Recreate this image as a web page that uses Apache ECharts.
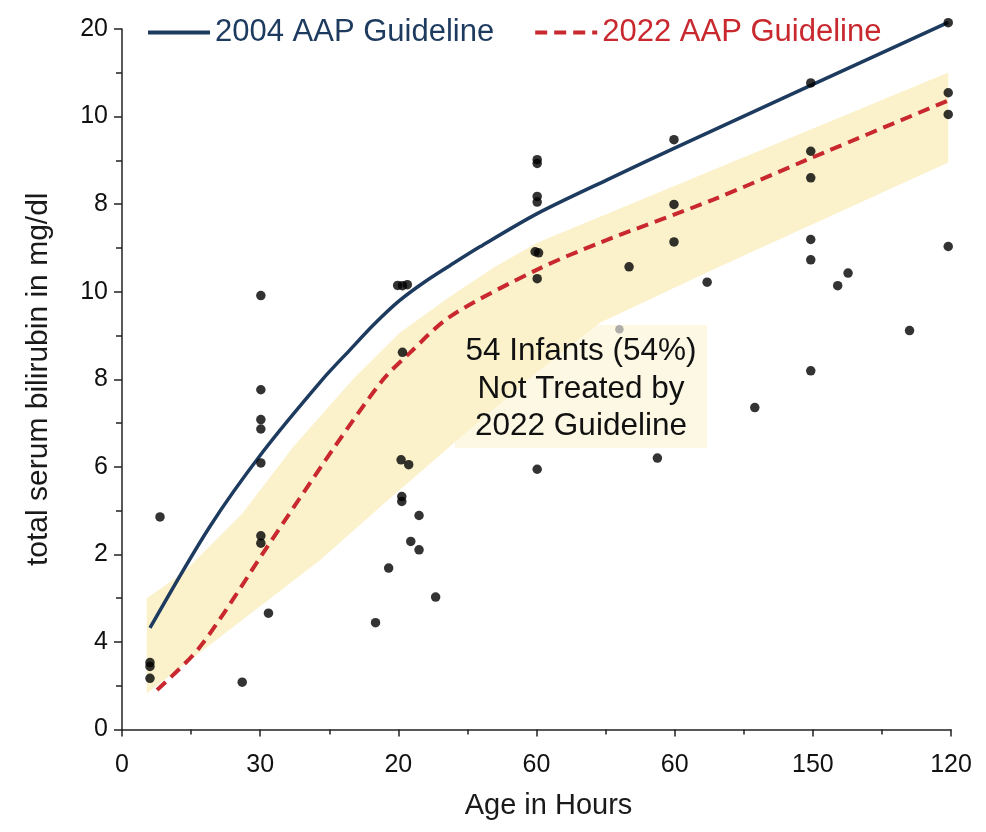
<!DOCTYPE html>
<html><head><meta charset="utf-8">
<script src="https://cdn.jsdelivr.net/npm/echarts@6/dist/echarts.min.js"></script>
<style>html,body{margin:0;padding:0;background:#fff}#c{width:986px;height:832px}</style>
</head><body><div id="c"></div>
<script>
// tick labels exactly as printed on the reference
const xTickLabels = ['0','30','20','60','60','150','120'];
const yTickLabels = ['0','4','2','6','8','10','8','10','20'];

// 2004 AAP guideline (solid navy)
const g2004Hours = [4.05, 12.7, 20.4, 29.0, 33.0, 36.6, 40.2, 43.9, 47.5, 51.8, 60.1, 70.6, 79.9, 99.7, 119.6];
const g2004Vals  = [2.90, 5.79, 7.93, 9.99, 10.84, 11.59, 12.25, 12.79, 13.25, 13.78, 14.73, 15.73, 16.59, 18.39, 20.19];

// 2022 AAP guideline (dashed red)
const g2022Hours = [5.07, 11.3, 21.0, 30.5, 37.8, 41.7, 47.5, 60.1, 69.2, 85.6, 99.2, 119.6];
const g2022Vals  = [1.13, 2.36, 5.21, 7.99, 9.99, 10.76, 11.79, 13.13, 13.90, 15.13, 16.27, 17.96];

// shaded band around 2022 guideline
const bandUpperHours = [3.58, 8.83, 17.5, 24.8, 33.4, 40.2, 47.5, 54.0, 60.1, 119.6];
const bandUpperVals  = [3.75, 4.47, 6.19, 8.07, 9.99, 11.33, 12.36, 13.21, 13.90, 18.76];
const bandLowerHours = [3.58, 28.7, 37.4, 48.2, 60.1, 69.2, 85.6, 119.6];
const bandLowerVals  = [1.03, 4.84, 6.36, 8.21, 10.21, 11.61, 13.13, 16.19];

// infants (black dots)
const infantHours = [4.05,4.05,4.05,5.5,17.4,20.1,20.1,20.1,20.1,20.1,20.1,20.1,21.2,36.7,38.6,39.9,40.6,41.3,40.6,40.4,41.5,40.5,40.5,43.0,41.8,43.0,45.4,60.1,60.1,60.1,60.1,59.8,60.3,60.1,60.1,73.4,77.5,79.9,79.9,79.9,84.7,91.6,99.7,99.7,99.7,99.7,99.7,99.7,103.6,105.1,114.0,119.6,119.6,119.6,119.6];
const infantVals  = [1.91,1.80,1.46,6.07,1.35,12.39,9.70,8.85,8.58,7.61,5.53,5.32,3.32,3.05,4.61,12.68,12.67,12.70,10.77,7.70,7.56,6.65,6.51,6.11,5.37,5.13,3.78,16.27,16.16,15.22,15.06,13.64,13.61,12.87,7.43,13.21,7.75,16.84,14.99,13.92,12.77,9.19,18.46,16.51,15.75,13.99,13.41,10.24,12.67,13.03,11.39,20.18,18.18,17.56,13.79];
// grey dot
const greyHours = [72.0];
const greyVals  = [11.43];

const FONT = "'Liberation Sans', Arial, Helvetica, sans-serif";
const zip = (a, b) => a.map((v, i) => [v, b[i]]);

const chart = echarts.init(document.getElementById('c'), null, {renderer: 'canvas'});
chart.setOption({
  animation: false,
  backgroundColor: '#ffffff',
  textStyle: {fontFamily: FONT},
  grid: {left: 122, right: 35, top: 29, bottom: 102.5, containLabel: false},
  legend: {
    left: 141, top: 12, itemWidth: 62, itemHeight: 14, itemGap: 39,
    itemStyle: {opacity: 0},
    lineStyle: {width: 4},
    textStyle: {fontSize: 31, fontFamily: FONT},
    data: [
      {name: '2004 AAP Guideline', textStyle: {color: '#1d3a5f'}},
      {name: '2022 AAP Guideline', textStyle: {color: '#c8282e'}}
    ]
  },
  xAxis: {
    type: 'value', min: 0, max: 120, interval: 20,
    name: 'Age in Hours', nameLocation: 'middle', nameGap: 62,
    nameTextStyle: {fontSize: 29, color: '#1a1a1a', fontFamily: FONT, padding: [0, 0, 0, 24]},
    axisLine: {show: true, onZero: false, lineStyle: {color: '#222', width: 1.5}},
    axisTick: {show: true, length: 7, lineStyle: {color: '#222', width: 1.5}},
    minorTick: {show: true, splitNumber: 2, length: 5, lineStyle: {color: '#222', width: 1.5}},
    splitLine: {show: false},
    axisLabel: {fontSize: 25, color: '#111', margin: 23, fontFamily: FONT,
      formatter: v => xTickLabels[Math.round(v / 20)] ?? ''}
  },
  yAxis: {
    type: 'value', min: 0, max: 20, interval: 2.5,
    name: 'total serum bilirubin in mg/dl', nameLocation: 'middle', nameGap: 68,
    nameTextStyle: {fontSize: 30, color: '#1a1a1a', fontFamily: FONT},
    axisLine: {show: true, onZero: false, lineStyle: {color: '#222', width: 1.5}},
    axisTick: {show: true, length: 8, lineStyle: {color: '#222', width: 1.5}},
    minorTick: {show: true, splitNumber: 2, length: 6, lineStyle: {color: '#222', width: 1.5}},
    splitLine: {show: false},
    axisLabel: {fontSize: 25, color: '#111', margin: 14, fontFamily: FONT,
      formatter: v => yTickLabels[Math.round(v / 2.5)] ?? ''}
  },
  series: [
    {
      type: 'custom', name: 'band', z: 1, silent: true,
      data: [[0, 0]],
      renderItem: function (params, api) {
        const pts = [];
        bandUpperHours.forEach((h, i) => pts.push(api.coord([h, bandUpperVals[i]])));
        for (let i = bandLowerHours.length - 1; i >= 0; i--) pts.push(api.coord([bandLowerHours[i], bandLowerVals[i]]));
        return {type: 'polygon', shape: {points: pts}, style: {fill: '#fbf2cc'}};
      }
    },
    {
      type: 'line', name: '2004 AAP Guideline', z: 3, clip: false,
      data: zip(g2004Hours, g2004Vals), smooth: 0.3, symbol: 'none',
      lineStyle: {color: '#1d3a5f', width: 3.5},
      itemStyle: {color: '#1d3a5f'}
    },
    {
      type: 'line', name: '2022 AAP Guideline', z: 3, clip: false,
      data: zip(g2022Hours, g2022Vals), smooth: 0.3, symbol: 'none',
      lineStyle: {color: '#c8282e', width: 4, type: [12, 7]},
      itemStyle: {color: '#c8282e'}
    },
    {
      type: 'scatter', name: 'infants', z: 4, clip: false,
      data: zip(infantHours, infantVals), symbolSize: 9.5,
      itemStyle: {color: '#000000'}
    },
    {
      type: 'scatter', name: 'grey', z: 4, clip: false,
      data: zip(greyHours, greyVals), symbolSize: 8.5,
      itemStyle: {color: '#9a9a9a'}
    }
  ],
  graphic: [
    {
      type: 'rect', z: 2, x: 455, y: 325,
      shape: {width: 252, height: 123},
      style: {fill: 'rgba(251,242,204,0.55)'}
    },
    {
      type: 'text', z: 5, x: 581, y: 333,
      style: {
        text: '54 Infants (54%)\nNot Treated by\n2022 Guideline',
        fontSize: 31.5, lineHeight: 37.5, fill: '#111', align: 'center', verticalAlign: 'top',
        fontFamily: FONT
      }
    }
  ]
});
</script></body></html>
